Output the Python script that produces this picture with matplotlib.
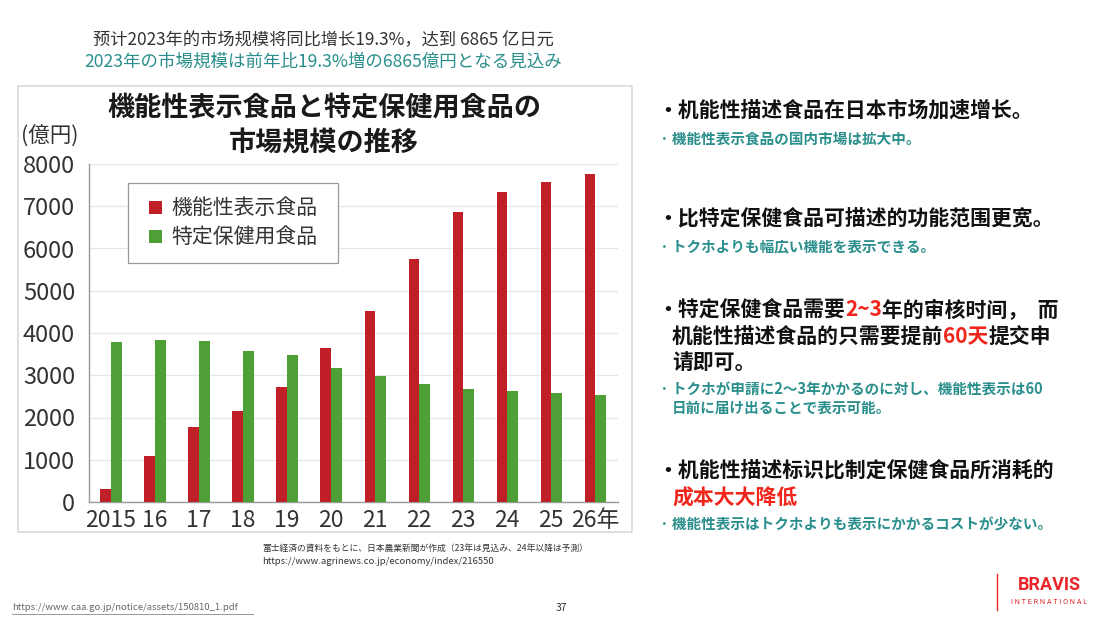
import matplotlib
matplotlib.use("Agg")
import matplotlib.pyplot as plt
from matplotlib.patches import Rectangle
import numpy as np

# ---- data ----
years = ['2015', '16', '17', '18', '19', '20', '21', '22', '23', '24', '25', '26年']
functional = [300, 1100, 1770, 2150, 2720, 3640, 4510, 5750, 6865, 7340, 7580, 7770]
tokuho = [3780, 3830, 3820, 3570, 3470, 3170, 2980, 2800, 2680, 2630, 2580, 2540]
series_names = ['機能性表示食品', '特定保健用食品']
yticks = [0, 1000, 2000, 3000, 4000, 5000, 6000, 7000, 8000]

RED = '#C11F27'
GREEN = '#4E9F36'
TEAL = '#2A8F8C'
BRED = '#F0261B'

W, H = 1108, 625
JP = ['Noto Sans CJK JP', 'DejaVu Sans']
SC = ['Noto Sans CJK SC', 'DejaVu Sans']

fig = plt.figure(figsize=(W / 100, H / 100), dpi=100)
fig.patch.set_facecolor('white')


def fx(px):
    return px / W


def fy(py):
    return 1 - py / H


# chart image frame (light shadow)
frame = Rectangle((fx(18), fy(532)), fx(632) - fx(18), fy(86) - fy(532),
                  transform=fig.transFigure, facecolor='none',
                  edgecolor='#d9d9d9', linewidth=1.2, zorder=-1)
fig.patches.append(frame)

# ---- axes ----
ax = fig.add_axes([fx(89), fy(502), fx(618) - fx(89), fy(164) - fy(502)])
x = np.arange(len(years))
bw = 0.24
ax.bar(x - bw / 2, functional, width=bw, color=RED, zorder=3)
ax.bar(x + bw / 2, tokuho, width=bw, color=GREEN, zorder=3)
ax.set_xlim(-0.5, 11.52)
ax.set_ylim(0, 8000)
ax.set_yticks(yticks)
ax.set_yticklabels([str(v) for v in yticks], fontfamily=JP, fontsize=17, color='#333333')
ax.set_xticks(x)
ax.set_xticklabels(years, fontfamily=JP, fontsize=16.5, color='#333333')
ax.tick_params(axis='both', length=0)
ax.tick_params(axis='y', pad=10)
ax.tick_params(axis='x', pad=5)
ax.grid(axis='y', color='#e6e6e6', linewidth=0.9, zorder=0)
for s in ['top', 'right']:
    ax.spines[s].set_visible(False)
for s in ['left', 'bottom']:
    ax.spines[s].set_color('#9a9a9a')
    ax.spines[s].set_linewidth(1.0)
ax.set_facecolor('none')

# legend box
leg = Rectangle((fx(128), fy(263)), fx(338) - fx(128), fy(183) - fy(263),
                transform=fig.transFigure, facecolor='white',
                edgecolor='#9a9a9a', linewidth=0.9, zorder=5)
fig.patches.append(leg)
for i, (name, col) in enumerate(zip(series_names, [RED, GREEN])):
    yc = 208 + i * 29
    fig.patches.append(Rectangle((fx(149), fy(yc + 6.5)), fx(13), fy(0) - fy(13),
                                 transform=fig.transFigure, facecolor=col,
                                 edgecolor='none', zorder=6))
    fig.text(fx(171), fy(yc), name, fontfamily=JP, fontsize=15, color='#333333',
             va='center', ha='left', zorder=7)

# chart title
fig.text(fx(324), fy(107), '機能性表示食品と特定保健用食品の', fontfamily=JP,
         fontsize=19.5, fontweight='bold', color='#1a1a1a', ha='center', va='center')
fig.text(fx(324), fy(143), '市場規模の推移', fontfamily=JP,
         fontsize=19.5, fontweight='bold', color='#1a1a1a', ha='center', va='center')
fig.text(fx(21), fy(137), '(億円)', fontfamily=JP, fontsize=15.5, color='#333333',
         ha='left', va='center')

# top header
fig.text(fx(323), fy(40), '预计2023年的市场规模将同比增长19.3%，达到 6865 亿日元',
         fontfamily=SC, fontsize=12.4, color='#333333', ha='center', va='center')
fig.text(fx(323), fy(62), '2023年の市場規模は前年比19.3%増の6865億円となる見込み',
         fontfamily=JP, fontsize=12.6, color=TEAL, ha='center', va='center')

renderer = fig.canvas.get_renderer()


def segs(xpx, ypx, parts, fam, size, weight):
    xcur = fx(xpx)
    for txt, col in parts:
        t = fig.text(xcur, fy(ypx), txt, fontfamily=fam, fontsize=size,
                     fontweight=weight, color=col, ha='left', va='center')
        bb = t.get_window_extent(renderer=renderer)
        xcur += bb.width / W


BS = 15.0
SS = 10.5
# bullet 1
segs(657, 110, [('·机能性描述食品在日本市场加速增长。', '#111111')], SC, BS, 'bold')
segs(660, 139, [('· 機能性表示食品の国内市場は拡大中。', TEAL)], JP, SS, 'bold')
# bullet 2
segs(657, 219, [('·比特定保健食品可描述的功能范围更宽。', '#111111')], SC, BS, 'bold')
segs(660, 246, [('· トクホよりも幅広い機能を表示できる。', TEAL)], JP, SS, 'bold')
# bullet 3
segs(657, 310, [('·特定保健食品需要', '#111111'), ('2~3', BRED),
                ('年的审核时间，  而', '#111111')], SC, BS, 'bold')
segs(672, 337, [('机能性描述食品的只需要提前', '#111111'), ('60天', BRED),
                ('提交申', '#111111')], SC, BS, 'bold')
segs(672, 362, [('请即可。', '#111111')], SC, BS, 'bold')
segs(660, 390, [('· トクホが申請に2〜3年かかるのに対し、機能性表示は60', TEAL)], JP, SS, 'bold')
segs(672, 408, [('日前に届け出ることで表示可能。', TEAL)], JP, SS, 'bold')
# bullet 4
segs(657, 471, [('·机能性描述标识比制定保健食品所消耗的', '#111111')], SC, BS, 'bold')
segs(672, 498, [('成本大大降低', BRED)], SC, BS, 'bold')
segs(660, 525, [('· 機能性表示はトクホよりも表示にかかるコストが少ない。', TEAL)], JP, SS, 'bold')

# source notes
fig.text(fx(262), fy(548), '富士経済の資料をもとに、日本農業新聞が作成（23年は見込み、24年以降は予測）',
         fontfamily=JP, fontsize=6.3, color='#333333', ha='left', va='center')
fig.text(fx(262), fy(562), 'https://www.agrinews.co.jp/economy/index/216550',
         fontfamily=JP, fontsize=6.8, color='#333333', ha='left', va='center')
fig.text(fx(12), fy(608), 'https://www.caa.go.jp/notice/assets/150810_1.pdf',
         fontfamily=JP, fontsize=6.8, color='#666666', ha='left', va='center')
fig.lines.append(plt.Line2D([fx(12), fx(253)], [fy(614), fy(614)],
                            transform=fig.transFigure, color='#888888', linewidth=0.6))
fig.text(fx(561), fy(608), '37', fontfamily=JP, fontsize=7.5, color='#333333',
         ha='center', va='center')

# logo
fig.lines.append(plt.Line2D([fx(997), fx(997)], [fy(574), fy(610)],
                            transform=fig.transFigure, color=BRED, linewidth=1.0))
fig.text(fx(1049), fy(585), 'BRAVIS', fontfamily=['Roboto', 'DejaVu Sans'], fontsize=13,
         fontweight='bold', color='#E8262A', ha='center', va='center')
fig.text(fx(1049), fy(603), 'I N T E R N A T I O N A L', fontfamily=['Roboto', 'DejaVu Sans'],
         fontsize=5.2, color='#E8262A', ha='center', va='center')

fig.savefig('out.png', dpi=100, facecolor='white')
